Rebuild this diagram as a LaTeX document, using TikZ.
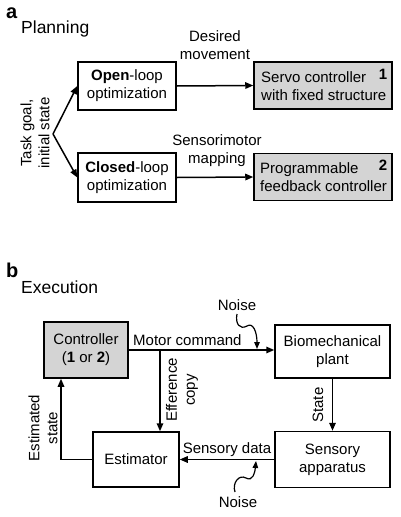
\documentclass[tikz,border=0pt]{standalone}
\usepackage{fontspec}
\setmainfont{Liberation Sans}
\usetikzlibrary{arrows.meta}
\definecolor{boxgray}{gray}{0.83}
\tikzset{
  box/.style={draw, line width=1.5pt, inner sep=0pt, align=center, font=\fontsize{15}{18}\selectfont},
  gbox/.style={draw, fill=boxgray, line width=1.5pt, inner sep=0pt, minimum width=138pt},
  lbl/.style={inner sep=0pt, align=center, font=\fontsize{15}{18}\selectfont},
  ltxt/.style={inner sep=0pt, align=left, anchor=west, font=\fontsize{15}{18}\selectfont},
  arr/.style={line width=1.5pt, -{Triangle[length=8pt,width=6.5pt]}},
  wav/.style={line width=1.2pt, -{Triangle[length=7pt,width=5.5pt]}},
  num/.style={inner sep=0pt, font=\fontsize{15}{18}\selectfont\bfseries},
  panel/.style={inner sep=0pt, font=\fontsize{20}{22}\selectfont\bfseries},
  ptitle/.style={inner sep=0pt, anchor=base west, font=\fontsize{17.5}{20}\selectfont}
}
\begin{document}
\begin{tikzpicture}[x=1pt,y=-1pt]
\useasboundingbox (0,0) rectangle (400,517);
% panel a
\node[panel, anchor=base west] (pa) at (6,18) {a};
\node[ptitle] (tplan) at (21,33) {Planning};
\node[box, minimum width=98pt, minimum height=48pt] (open) at (127,86) {\textbf{Open}-loop\\optimization};
\node[gbox, minimum height=47pt] (servo) at (323,85.5) {};
\node[ltxt] (servotxt) at (261,86) {Servo controller\\with fixed structure};
\node[num] (n1) at (383,74) {1};
\node[box, minimum width=98pt, minimum height=49pt] (closed) at (127,177.5) {\textbf{Closed}-loop\\optimization};
\node[gbox, minimum height=47pt] (prog) at (323,177) {};
\node[ltxt] (progtxt) at (260,177.5) {Programmable\\feedback controller};
\node[num] (n2) at (383,165) {2};
\node[lbl] (desired) at (215,45) {Desired\\movement};
\node[lbl] (sensmap) at (217,151) {Sensorimotor\\mapping};
\node[lbl, rotate=90] (task) at (35,133) {Task goal,\\initial state};
\coordinate (fork) at (53,134);
\draw[arr] (open.east) -- (servo.west);
\draw[arr] (closed.east) -- (prog.west);
\draw[arr] (fork) -- (open.west);
\draw[arr] (fork) -- (closed.west);
% panel b
\node[panel, anchor=base west] (pb) at (6,277) {b};
\node[ptitle] (texec) at (21,293) {Execution};
\node[box, fill=boxgray, minimum width=84pt, minimum height=56pt] (ctrl) at (86,350) {Controller\\(\textbf{1} or \textbf{2})};
\node[box, minimum width=115pt, minimum height=53pt] (plant) at (332.5,351.5) {Biomechanical\\plant};
\node[box, minimum width=86pt, minimum height=55pt] (est) at (136,459.5) {Estimator};
\node[box, minimum width=115pt, minimum height=56pt] (sens) at (332.5,459.5) {Sensory\\apparatus};
\draw[arr] (ctrl.east) -- (ctrl.east -| plant.west);
\node[lbl, anchor=base west] (motor) at (133,345) {Motor command};
\coordinate (eff) at (160,350);
\draw[arr] (eff) -- (eff |- est.north);
\node[lbl, rotate=90] (efftxt) at (182,390) {Efference\\copy};
\draw[arr] (plant.south) -- (sens.north);
\node[lbl, rotate=90] (statetxt) at (318,405) {State};
\draw[arr] (sens.west) -- (est.east);
\node[lbl, anchor=base] (sdata) at (227,453) {Sensory data};
\coordinate (corner) at (61,459.5);
\draw[arr] (est.west) -- (corner) -- (corner |- ctrl.south);
\node[lbl, rotate=90] (esttxt) at (43,428) {Estimated\\state};
% noise
\node[lbl] (noise1) at (237,305) {Noise};
\coordinate (w1a) at (237,314);
\coordinate (w1b) at (247,326);
\coordinate (w1c) at (257,349);
\draw[wav] (w1a) .. controls (235,324) and (240,330) .. (w1b) .. controls (253,322) and (257,332) .. (w1c);
\node[lbl] (noise2) at (238,502) {Noise};
\coordinate (w2a) at (235,492);
\coordinate (w2b) at (246,478);
\coordinate (w2c) at (256,461);
\draw[wav] (w2a) .. controls (232,483) and (239,474) .. (w2b) .. controls (253,482) and (255,472) .. (w2c);
\end{tikzpicture}
\end{document}
